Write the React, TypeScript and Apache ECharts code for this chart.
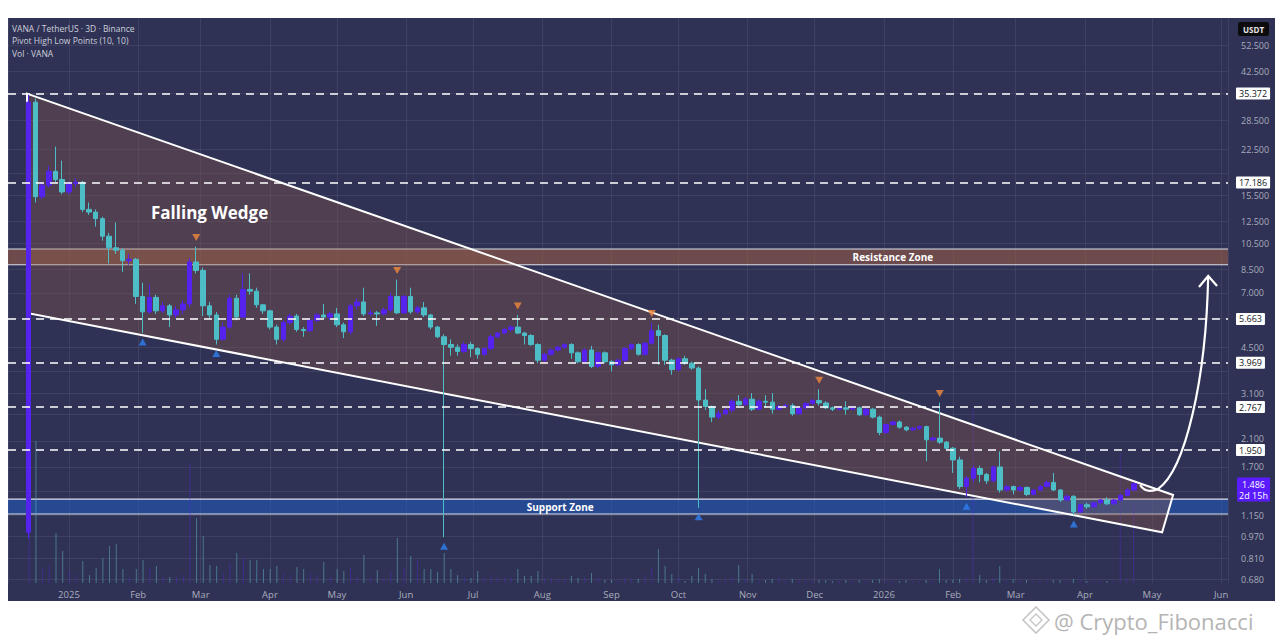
import React, { useEffect, useRef } from "react";
import * as echarts from "echarts";

// ---------- data ----------
const START_UTC = Date.UTC(2024, 11, 14);
const STEP_MS = 3 * 86400000;

const opens = [
  1.0, 33.0, 15.3, 16.8, 18.8, 17.6, 15.9, 17.0, 17.2, 13.8,
  13.5, 12.8, 11.1, 10.1, 9.9, 9.1, 9.2, 6.8, 6.0, 6.75,
  6.05, 6.3, 5.85, 6.1, 6.4, 9.0, 8.4, 6.3, 5.85, 4.8,
  5.3, 6.7, 5.75, 7.2, 7.1, 6.35, 6.05, 5.3, 4.8, 5.5,
  5.8, 5.2, 5.15, 5.6, 5.85, 5.75, 5.9, 5.4, 5.1, 6.3,
  6.5, 5.9, 5.95, 5.9, 6.1, 6.8, 5.95, 6.8, 6.0, 6.2,
  5.85, 5.3, 4.9, 4.6, 4.5, 4.35, 4.6, 4.45, 4.25, 4.45,
  4.9, 5.05, 5.2, 5.3, 5.05, 4.95, 4.6, 4.05, 4.25, 4.4,
  4.5, 4.6, 4.3, 4.0, 4.4, 3.85, 4.3, 4.0, 3.9, 4.05,
  4.45, 4.6, 4.25, 4.65, 5.15, 4.95, 4.05, 3.75, 4.1, 3.95,
  3.8, 2.93, 2.78, 2.55, 2.62, 2.7, 2.9, 2.82, 2.95, 2.72,
  2.9, 2.88, 2.72, 2.78, 2.8, 2.62, 2.75, 2.85, 2.92, 2.86,
  2.75, 2.72, 2.75, 2.72, 2.75, 2.6, 2.72, 2.55, 2.25, 2.4,
  2.45, 2.35, 2.3, 2.33, 2.36, 2.12, 2.15, 2.08, 1.98, 1.8,
  1.45, 1.55, 1.68, 1.6, 1.52, 1.7, 1.41, 1.45, 1.41, 1.44,
  1.36, 1.41, 1.45, 1.5, 1.41, 1.3, 1.34, 1.18, 1.25, 1.23,
  1.27, 1.3, 1.26, 1.3, 1.35, 1.41,
];

const closes = [
  33.0, 15.3, 16.8, 18.8, 17.6, 15.9, 17.0, 17.2, 13.8, 13.5,
  12.8, 11.1, 10.1, 9.9, 9.1, 9.2, 6.8, 6.0, 6.75, 6.05,
  6.3, 5.85, 6.1, 6.4, 9.0, 8.4, 6.3, 5.85, 4.8, 5.3,
  6.7, 5.75, 7.2, 7.1, 6.35, 6.05, 5.3, 4.8, 5.5, 5.8,
  5.2, 5.15, 5.6, 5.85, 5.75, 5.9, 5.4, 5.1, 6.3, 6.5,
  5.9, 5.95, 5.9, 6.1, 6.8, 5.95, 6.8, 6.0, 6.2, 5.85,
  5.3, 4.9, 4.6, 4.5, 4.35, 4.6, 4.45, 4.25, 4.45, 4.9,
  5.05, 5.2, 5.3, 5.05, 4.95, 4.6, 4.05, 4.25, 4.4, 4.5,
  4.6, 4.3, 4.0, 4.4, 3.85, 4.3, 4.0, 3.9, 4.05, 4.45,
  4.6, 4.25, 4.65, 5.15, 4.95, 4.05, 3.75, 4.1, 3.95, 3.8,
  2.93, 2.78, 2.55, 2.62, 2.7, 2.9, 2.82, 2.95, 2.72, 2.9,
  2.88, 2.72, 2.78, 2.8, 2.62, 2.75, 2.85, 2.92, 2.86, 2.75,
  2.72, 2.75, 2.72, 2.75, 2.6, 2.72, 2.55, 2.25, 2.4, 2.45,
  2.35, 2.3, 2.33, 2.36, 2.12, 2.15, 2.08, 1.98, 1.8, 1.45,
  1.55, 1.68, 1.6, 1.52, 1.7, 1.41, 1.45, 1.41, 1.44, 1.36,
  1.41, 1.45, 1.5, 1.41, 1.3, 1.34, 1.18, 1.25, 1.23, 1.27,
  1.3, 1.26, 1.3, 1.35, 1.41, 1.486,
];

const lows = [
  0.95, 14.6, 15.0, 16.5, 17.2, 15.6, 15.6, 16.5, 13.5, 13.2,
  12.0, 10.7, 8.9, 9.6, 8.3, 8.8, 6.4, 5.05, 5.9, 5.9,
  5.95, 5.3, 5.7, 5.9, 6.2, 8.2, 5.8, 5.7, 4.6, 4.75,
  5.2, 5.6, 5.7, 6.9, 6.2, 5.9, 5.2, 4.6, 4.7, 5.4,
  5.1, 4.9, 5.1, 5.5, 5.7, 5.6, 5.3, 4.85, 5.0, 6.1,
  5.8, 5.8, 5.35, 5.85, 6.0, 5.9, 5.9, 5.9, 5.9, 5.75,
  5.2, 4.85, 0.96, 4.2, 4.2, 4.3, 4.15, 4.1, 4.2, 4.4,
  4.85, 5.0, 5.1, 5.0, 4.6, 4.55, 3.95, 4.0, 4.2, 4.35,
  4.45, 4.1, 3.95, 3.95, 3.8, 3.8, 3.95, 3.7, 3.85, 4.0,
  4.4, 4.2, 4.2, 4.6, 3.9, 3.9, 3.6, 3.7, 3.9, 3.75,
  1.22, 2.7, 2.45, 2.5, 2.6, 2.65, 2.78, 2.8, 2.68, 2.7,
  2.75, 2.62, 2.7, 2.74, 2.58, 2.6, 2.72, 2.82, 2.8, 2.72,
  2.68, 2.7, 2.6, 2.7, 2.57, 2.58, 2.52, 2.2, 2.22, 2.38,
  2.32, 2.27, 2.28, 2.3, 1.78, 2.1, 2.05, 1.95, 1.62, 1.42,
  1.33, 1.5, 1.5, 1.48, 1.5, 1.38, 1.39, 1.36, 1.39, 1.34,
  1.35, 1.4, 1.44, 1.4, 1.28, 1.29, 1.15, 1.17, 1.21, 1.22,
  1.26, 1.25, 1.25, 1.29, 1.34, 1.4,
];

const highs = [
  35.37, 34.0, 17.3, 19.6, 23.0, 20.5, 17.4, 17.8, 17.4, 14.6,
  13.8, 13.0, 11.4, 12.4, 10.1, 9.6, 9.3, 7.6, 7.5, 6.9,
  6.5, 6.4, 6.3, 6.6, 9.3, 10.2, 8.6, 6.5, 6.0, 5.5,
  6.9, 6.9, 8.2, 8.2, 7.3, 6.4, 6.1, 5.4, 5.6, 5.9,
  5.9, 5.3, 5.7, 5.95, 6.4, 6.0, 6.2, 5.5, 6.4, 6.7,
  7.3, 6.1, 6.05, 6.2, 7.0, 7.8, 6.9, 7.3, 6.3, 6.5,
  5.9, 5.35, 5.0, 4.8, 4.6, 4.7, 4.7, 4.5, 4.5, 5.0,
  5.1, 5.25, 5.4, 5.85, 5.1, 5.0, 4.65, 4.3, 4.45, 4.55,
  4.65, 4.65, 4.35, 4.45, 4.55, 4.35, 4.35, 4.05, 4.1, 4.5,
  4.65, 4.65, 4.7, 5.5, 5.4, 5.0, 4.1, 4.15, 4.2, 4.0,
  3.85, 3.2, 2.8, 2.7, 2.75, 2.95, 3.05, 3.0, 3.1, 2.95,
  3.05, 3.1, 2.82, 2.85, 2.85, 2.78, 2.88, 2.96, 3.2, 2.9,
  2.78, 2.78, 2.9, 2.78, 2.78, 2.75, 2.75, 2.58, 2.42, 2.48,
  2.48, 2.37, 2.35, 2.38, 2.38, 2.18, 2.87, 2.1, 2.0, 1.85,
  1.58, 1.72, 1.72, 1.62, 1.72, 1.93, 1.47, 1.46, 1.46, 1.45,
  1.42, 1.47, 1.52, 1.62, 1.42, 1.36, 1.35, 1.26, 1.27, 1.28,
  1.31, 1.33, 1.31, 1.37, 1.43, 1.5,
];

// volume, millions of VANA
const volumes = [
  6.0, 14.2, 1.5, 1.8, 5.0, 3.2, 1.2, 0.8, 2.2, 0.8,
  1.5, 2.5, 3.7, 3.9, 1.4, 0.6, 1.4, 2.3, 1.5, 1.7,
  0.6, 0.6, 0.6, 0.8, 12.0, 6.5, 4.7, 1.8, 1.7, 1.0,
  2.0, 3.0, 2.5, 2.3, 2.3, 1.4, 1.4, 1.7, 1.0, 0.8,
  1.6, 1.4, 1.0, 0.8, 2.1, 0.6, 1.4, 1.2, 1.5, 0.6,
  2.8, 0.5, 1.3, 0.5, 1.2, 4.5, 1.5, 2.7, 2.3, 1.4,
  1.4, 1.1, 3.0, 1.4, 0.8, 0.6, 0.5, 1.2, 0.5, 0.8,
  0.6, 0.5, 0.6, 1.4, 0.7, 0.7, 1.2, 0.5, 0.4, 0.4,
  0.4, 0.7, 0.5, 0.6, 1.0, 0.5, 0.3, 0.3, 0.3, 0.5,
  0.4, 0.4, 0.8, 1.5, 3.4, 1.7, 0.9, 0.5, 0.2, 0.7,
  1.5, 0.9, 0.4, 0.3, 0.3, 0.6, 1.8, 0.4, 0.9, 0.3,
  0.3, 0.4, 0.5, 0.3, 0.4, 0.3, 0.3, 0.3, 0.3, 0.3,
  0.2, 0.2, 0.3, 0.2, 0.3, 0.2, 0.3, 0.4, 0.3, 0.2,
  0.2, 0.3, 0.2, 0.2, 0.3, 0.2, 1.4, 0.3, 0.3, 0.4,
  0.6, 17.5, 0.8, 0.3, 0.5, 1.7, 0.3, 0.4, 0.3, 0.3,
  0.2, 0.2, 0.3, 0.3, 0.3, 0.2, 0.4, 0.3, 0.2, 0.2,
  0.2, 0.2, 0.2, 13.0, 0.4, 8.0,
];

const levelValues = [35.372, 17.186, 5.663, 3.969, 2.767, 1.95];
const gridValues = [52.5, 42.5, 35.5, 28.5, 22.5, 18.5, 15.5, 12.5, 10.5, 8.5, 7.0, 5.7, 4.5, 3.7, 3.1, 2.6, 2.1, 1.7, 1.4, 1.15, 0.97, 0.81, 0.68];
const labelValues = [52.5, 42.5, 28.5, 22.5, 15.5, 12.5, 10.5, 8.5, 7.0, 4.5, 3.1, 2.1, 1.7, 1.15, 0.97, 0.81, 0.68];

const pivotHighIdx = [25, 55, 73, 93, 118, 136];
const pivotLowIdx = [17, 28, 62, 100, 140, 156];

const zoneNames = ["Resistance Zone", "Support Zone"];
const zoneLows = [8.8, 1.16];
const zoneHighs = [10.0, 1.31];
const zoneLabelTimes = ["2026-01-05T00:00:00Z", "2025-08-09T00:00:00Z"];

const wedgeTimes = ["2024-12-13T05:00:00Z", "2026-05-10T12:00:00Z", "2026-05-05T14:00:00Z", "2024-12-13T05:00:00Z"];
const wedgePrices = [35.372, 1.354, 1.0, 5.95];
const wedgeLabelText = "Falling Wedge";
const wedgeLabelTime = "2025-03-05T00:00:00Z";
const wedgeLabelPrice = 13.5;

const arrowTimes = [
  "2026-04-25T17:00:00Z", "2026-04-28T10:00:00Z", "2026-05-03T19:00:00Z",
  "2026-05-15T22:00:00Z", "2026-05-25T07:00:00Z", "2026-05-26T05:00:00Z",
  "2026-05-22T02:00:00Z", "2026-05-30T05:00:00Z",
];
const arrowPrices = [1.468, 1.365, 1.422, 1.659, 3.449, 8.03, 7.34, 7.4];

const countdownText = "2d 15h";
const headerLines = ["VANA / TetherUS · 3D · Binance", "Pivot High Low Points (10, 10)", "Vol · VANA"];
const MONTHS = ["Jan", "Feb", "Mar", "Apr", "May", "Jun", "Jul", "Aug", "Sep", "Oct", "Nov", "Dec"];

const X_MIN = Date.UTC(2024, 11, 4, 17);
const X_MAX = Date.UTC(2026, 5, 4, 2);
const Y_MIN = 0.662;
const Y_MAX = 65.4;
const VOL_MAX = 56.5;

// ---------- styles ----------
const TEAL = "#4dbdc6";
const PURPLE = "#5522ee";
const PANEL_BG = "#2f3254";
const GRID_LINE = "rgba(255,255,255,0.07)";
const AXIS_TEXT = "#a9acbd";
const FONT = "'Open Sans', 'Noto Sans', sans-serif";

function buildOption(): any {
  const dates = opens.map((_, i) => START_UTC + i * STEP_MS);
  const candleData = opens.map((o, i) => [dates[i], o, closes[i], lows[i], highs[i]]);
  const volData = volumes.map((v, i) => ({
    value: [dates[i], v],
    itemStyle: { color: closes[i] >= opens[i] ? "rgba(90,40,235,0.38)" : "rgba(95,175,195,0.55)" },
  }));
  const lastClose = closes[closes.length - 1];
  const gridBox = { left: 8, right: 52, top: 18, bottom: 60 };

  // axis labels sitting just above a boxed level get nudged upward so they don't touch the box
  const nearAboveLevel = (v: number) => levelValues.some((L) => v / L > 1 && v / L < 1.09);

  return {
    animation: false,
    backgroundColor: "#ffffff",
    textStyle: { fontFamily: FONT },
    graphic: [
      { type: "rect", x: 8, y: 18, shape: { width: 1267, height: 583 }, style: { fill: PANEL_BG }, z: -100, silent: true },
      ...headerLines.map((t, i) => ({
        type: "text", x: 12, y: 28 + i * 12.5, z: 50, silent: true,
        style: { text: t, fill: "#cdd0db", font: `8.5px ${FONT}`, textVerticalAlign: "middle", verticalAlign: "middle" },
      })),
      { type: "rect", x: 1238, y: 22, shape: { width: 31, height: 14, r: 2 }, style: { fill: "#0c0c0e" }, z: 50, silent: true },
      {
        type: "text", x: 1253.5, y: 29, z: 51, silent: true,
        style: { text: "USDT", fill: "#e8e8e8", font: `bold 8px ${FONT}`, textAlign: "center", align: "center", textVerticalAlign: "middle", verticalAlign: "middle" },
      },
      { type: "polygon", shape: { points: [[1036, 607], [1049, 620], [1036, 633], [1023, 620]] }, style: { fill: "none", stroke: "#c6c6c6", lineWidth: 1.6 }, z: 50, silent: true },
      { type: "polygon", shape: { points: [[1036, 614], [1042, 620], [1036, 626], [1030, 620]] }, style: { fill: "none", stroke: "#c6c6c6", lineWidth: 1.4 }, z: 50, silent: true },
      {
        type: "text", x: 1054, y: 621, z: 50, silent: true,
        style: { text: "@ Crypto_Fibonacci", fill: "#b4b4b4", font: `22px ${FONT}`, textVerticalAlign: "middle", verticalAlign: "middle" },
      },
    ],
    grid: [{ ...gridBox }, { ...gridBox }],
    xAxis: [
      {
        type: "time", gridIndex: 0, min: X_MIN, max: X_MAX, splitNumber: 18,
        axisLine: { show: false }, axisTick: { show: false },
        axisLabel: {
          color: AXIS_TEXT, fontSize: 9.5, margin: 6, fontFamily: FONT,
          formatter: (value: number) => {
            const d = new Date(value);
            return d.getMonth() === 0 ? String(d.getFullYear()) : MONTHS[d.getMonth()];
          },
        },
        splitLine: { show: true, lineStyle: { color: GRID_LINE, width: 1 } },
      },
      { type: "time", gridIndex: 1, min: X_MIN, max: X_MAX, show: false, splitLine: { show: false } },
    ],
    yAxis: [
      {
        type: "log", logBase: 10, gridIndex: 0, position: "right", min: Y_MIN, max: Y_MAX,
        axisLine: { show: false },
        axisTick: { show: false, customValues: gridValues },
        axisLabel: {
          customValues: labelValues, color: AXIS_TEXT, fontSize: 9, margin: 13, fontFamily: FONT,
          formatter: (v: number) => {
            const s = Number(v).toFixed(3);
            return nearAboveLevel(Number(v)) ? `{up|${s}}` : s;
          },
          rich: { up: { color: AXIS_TEXT, fontSize: 9, fontFamily: FONT, padding: [0, 0, 5, 0] } },
        },
        splitLine: { show: true, lineStyle: { color: GRID_LINE, width: 1 } },
      },
      { type: "value", gridIndex: 1, min: 0, max: VOL_MAX, show: false, splitLine: { show: false } },
    ],
    series: [
      {
        type: "custom", name: "zones", xAxisIndex: 0, yAxisIndex: 0, z: 1, silent: true,
        data: zoneNames.map((_, i) => [X_MIN, zoneLows[i]]),
        renderItem: (params: any, api: any) => {
          const i = params.dataIndex;
          const tl = api.coord([X_MIN, zoneHighs[i]]);
          const br = api.coord([X_MAX, zoneLows[i]]);
          const lab = api.coord([Date.parse(zoneLabelTimes[i]), Math.sqrt(zoneLows[i] * zoneHighs[i])]);
          const fill = i === 0 ? "rgba(160,95,70,0.55)" : "rgba(32,92,195,0.55)";
          const lineStyle = { stroke: "#dde1ec", lineWidth: 1.2 };
          return {
            type: "group",
            children: [
              { type: "rect", shape: { x: tl[0], y: tl[1], width: br[0] - tl[0], height: br[1] - tl[1] }, style: { fill } },
              { type: "line", shape: { x1: tl[0], y1: tl[1], x2: br[0], y2: tl[1] }, style: lineStyle },
              { type: "line", shape: { x1: tl[0], y1: br[1], x2: br[0], y2: br[1] }, style: lineStyle },
              {
                type: "text", x: lab[0], y: lab[1], z2: 10,
                style: { text: zoneNames[i], fill: "#ffffff", font: `bold 10px ${FONT}`, textAlign: "center", align: "center", textVerticalAlign: "middle", verticalAlign: "middle" },
              },
            ],
          };
        },
      },
      {
        type: "custom", name: "wedge", xAxisIndex: 0, yAxisIndex: 0, z: 2, silent: true,
        data: [[Date.parse(wedgeTimes[0]), wedgePrices[0]]],
        renderItem: (params: any, api: any) => {
          const pts = wedgeTimes.map((t, i) => api.coord([Date.parse(t), wedgePrices[i]]));
          const lab = api.coord([Date.parse(wedgeLabelTime), wedgeLabelPrice]);
          return {
            type: "group",
            children: [
              { type: "polygon", shape: { points: pts }, style: { fill: "rgba(150,92,70,0.32)", stroke: "#ffffff", lineWidth: 2 } },
              {
                type: "text", x: lab[0], y: lab[1],
                style: { text: wedgeLabelText, fill: "#ffffff", font: `bold 17px ${FONT}`, textAlign: "center", align: "center", textVerticalAlign: "middle", verticalAlign: "middle" },
              },
            ],
          };
        },
      },
      {
        type: "bar", name: "Vol", xAxisIndex: 1, yAxisIndex: 1, z: 1, silent: true,
        barWidth: 1, data: volData,
      },
      {
        type: "candlestick", name: "VANA", xAxisIndex: 0, yAxisIndex: 0, z: 3,
        barWidth: 5, data: candleData,
        itemStyle: { color: PURPLE, color0: TEAL, borderColor: PURPLE, borderColor0: TEAL, borderWidth: 1 },
        markLine: {
          silent: true, symbol: ["none", "none"], animation: false, precision: 3,
          lineStyle: { color: "#ffffff", type: [8, 6], width: 1.6 },
          label: {
            show: true, position: "end", distance: 8,
            formatter: (p: any) => levelValues[p.dataIndex].toFixed(3),
            backgroundColor: "#ffffff", color: "#131722", padding: [2, 3, 1, 3], fontSize: 9, fontFamily: FONT, borderRadius: 1,
          },
          data: levelValues.map((v) => ({ yAxis: v })),
        },
      },
      {
        type: "scatter", name: "Pivot High", xAxisIndex: 0, yAxisIndex: 0, z: 4, silent: true,
        symbol: "triangle", symbolRotate: 180, symbolSize: [8, 7], symbolOffset: [0, -9],
        itemStyle: { color: "#f08a3e" },
        data: pivotHighIdx.map((i) => [dates[i], highs[i]]),
      },
      {
        type: "scatter", name: "Pivot Low", xAxisIndex: 0, yAxisIndex: 0, z: 4, silent: true,
        symbol: "triangle", symbolSize: [8, 7], symbolOffset: [0, 9],
        itemStyle: { color: "#2f7ff5" },
        data: pivotLowIdx.map((i) => [dates[i], lows[i]]),
      },
      {
        type: "custom", name: "arrow", xAxisIndex: 0, yAxisIndex: 0, z: 5, silent: true,
        data: [[Date.parse(arrowTimes[0]), arrowPrices[0]]],
        renderItem: (params: any, api: any) => {
          const p = arrowTimes.map((t, i) => api.coord([Date.parse(t), arrowPrices[i]]));
          const st = { stroke: "#ffffff", lineWidth: 2.2, fill: null };
          return {
            type: "group",
            children: [
              { type: "bezierCurve", shape: { x1: p[0][0], y1: p[0][1], cpx1: p[1][0], cpy1: p[1][1], x2: p[2][0], y2: p[2][1] }, style: st },
              { type: "bezierCurve", shape: { x1: p[2][0], y1: p[2][1], cpx1: p[3][0], cpy1: p[3][1], cpx2: p[4][0], cpy2: p[4][1], x2: p[5][0], y2: p[5][1] }, style: st },
              { type: "polyline", shape: { points: [p[6], p[5], p[7]] }, style: st },
            ],
          };
        },
      },
      {
        type: "custom", name: "last price", xAxisIndex: 0, yAxisIndex: 0, z: 6, silent: true, clip: false,
        data: [[X_MAX, lastClose]],
        renderItem: (params: any, api: any) => {
          const p = api.coord([X_MAX, lastClose]);
          return {
            type: "group",
            children: [
              { type: "rect", shape: { x: p[0] + 9, y: p[1] - 6, width: 33, height: 24, r: 1 }, style: { fill: "#5a1cff" } },
              {
                type: "text", x: p[0] + 25.5, y: p[1] + 6,
                style: { text: lastClose.toFixed(3) + "\n" + countdownText, fill: "#ffffff", font: `9px ${FONT}`, lineHeight: 11, textAlign: "center", align: "center", textVerticalAlign: "middle", verticalAlign: "middle" },
              },
            ],
          };
        },
      },
    ],
  };
}

export default function App() {
  const ref = useRef<HTMLDivElement>(null);
  useEffect(() => {
    if (!ref.current) return;
    const chart = echarts.init(ref.current, undefined, { renderer: "svg" });
    chart.setOption(buildOption());
    return () => chart.dispose();
  }, []);
  return <div ref={ref} style={{ position: "fixed", left: 0, top: 0, width: 1280, height: 643 }} />;
}
